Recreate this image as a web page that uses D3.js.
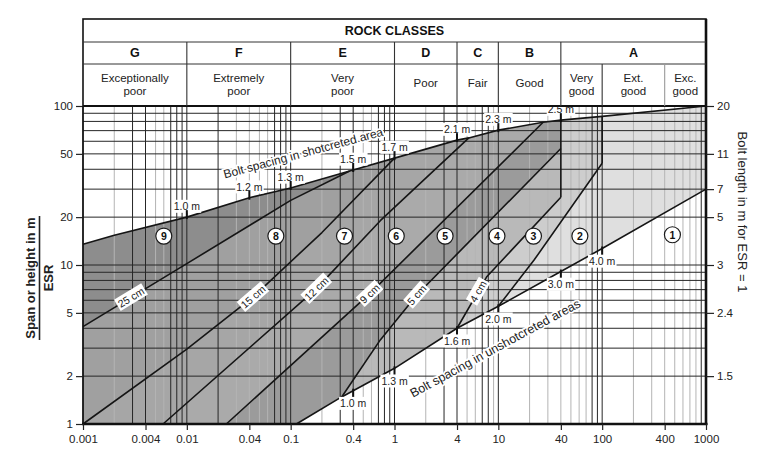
<!DOCTYPE html>
<html>
<head>
<meta charset="utf-8">
<script src="https://cdn.jsdelivr.net/npm/d3@7"></script>
<style>
  body { margin: 0; background: #fff; }
  svg { display: block; font-family: "Liberation Sans", Arial, sans-serif; }
</style>
</head>
<body>
<svg id="chart" width="768" height="453"></svg>
<script>
// ---- axis values ----
const qTicks = [0.001, 0.004, 0.01, 0.04, 0.1, 0.4, 1, 4, 10, 40, 100, 400, 1000];
const qTickLabels = ["0.001", "0.004", "0.01", "0.04", "0.1", "0.4", "1", "4", "10", "40", "100", "400", "1000"];
const spanTicks = [1, 2, 5, 10, 20, 50, 100];
const boltLengthAt = [2, 5, 10, 20, 30, 50, 100];
const boltLengthLabels = ["1.5", "2.4", "3", "5", "7", "11", "20"];

// ---- rock classes (header) ----
const classLetters = ["G", "F", "E", "D", "C", "B", "A"];
const classBounds = [0.001, 0.01, 0.1, 1, 4, 10, 40, 1000];
const qualityNames = [["Exceptionally", "poor"], ["Extremely", "poor"], ["Very", "poor"], ["Poor"], ["Fair"], ["Good"], ["Very", "good"], ["Ext.", "good"], ["Exc.", "good"]];
const qualityBounds = [0.001, 0.01, 0.1, 1, 4, 10, 40, 100, 400, 1000];

// ---- boundary curves, points are [Q, span/ESR] ----
const topBoundary = [[0.001, 13.5], [0.002, 15.4], [0.01, 20], [0.04, 26.5], [0.1, 30.5], [0.37, 39], [1, 47], [4, 61], [5.2, 63], [10, 70.5], [27, 79], [40, 81.5], [100, 86], [1000, 100]];
const bottomBoundary = [[0.1135, 1], [0.31, 1.48], [1, 2.24], [4, 4], [10, 5.5], [40, 9.1], [100, 12.7], [1000, 30]];
const line25cm = [[0.001, 4.1], [0.01, 10.2], [0.1, 25.5], [0.37, 39]];
const line15cm = [[0.001, 1], [0.01, 2.96], [0.0435, 6.3], [0.2, 16], [1, 47]];
const line12cm = [[0.0059, 1], [0.177, 7.1], [0.73, 19], [5.2, 63]];
const line9cm = [[0.024, 1], [0.578, 6.6], [27, 79]];
const line5cm = [[0.31, 1.48], [0.73, 3.38], [1.64, 6.48], [40, 54]];
const line4cm = [[4, 4], [7.7, 8.4], [40, 26.7]];
const line2to3 = [[10, 5.5], [22, 10.7], [100, 43.6]];
const stepAt40 = [[40, 26.7], [40, 81.5]];
const stepAt100 = [[100, 43.6], [100, 86]];

// ---- annotations ----
const topSpacingQ = [0.01, 0.04, 0.1, 0.4, 1, 4, 10, 40];
const topSpacingLabels = ["1.0 m", "1.2 m", "1.3 m", "1.5 m", "1.7 m", "2.1 m", "2.3 m", "2.5 m"];
const bottomSpacingQ = [0.4, 1, 4, 10, 40, 100];
const bottomSpacingLabels = ["1.0 m", "1.3 m", "1.6 m", "2.0 m", "3.0 m", "4.0 m"];
const shotcreteLabels = ["25 cm", "15 cm", "12 cm", "9 cm", "5 cm", "4 cm"];
const shotcreteLabelQ = [0.0029, 0.0435, 0.177, 0.578, 1.64, 6.4];
const regionNumbers = [9, 8, 7, 6, 5, 4, 3, 2, 1];
const regionLabelQ = [0.006, 0.072, 0.33, 1.04, 3.07, 9.7, 21.8, 61, 475];
const regionLabelSpan = [15.2, 15.2, 15.2, 15.2, 15.2, 15.2, 15.2, 15.2, 15.5];

// ---- layout ----
const x = d3.scaleLog().domain([0.001, 1000]).range([83, 706]);
const y = d3.scaleLog().domain([1, 100]).range([424, 106]);
const headerTop = 19, row1 = 42, row2 = 64;

const svg = d3.select("#chart");

function spanOn(pts, q) {
  for (let i = 0; i < pts.length - 1; i++) {
    const [q0, s0] = pts[i], [q1, s1] = pts[i + 1];
    if (q >= q0 && q <= q1) {
      const t = Math.log(q / q0) / Math.log(q1 / q0);
      return Math.exp(Math.log(s0) + t * Math.log(s1 / s0));
    }
  }
  return pts[pts.length - 1][1];
}
const between = (pts, a, b) => pts.filter(p => p[0] >= a && p[0] <= b);
const rev = pts => pts.slice().reverse();
const path = d3.line().x(d => x(d[0])).y(d => y(d[1]));

// ---- shaded support categories ----
const regions = [
  { fill: "#8d8d8d", pts: [...between(topBoundary, 0.001, 0.37), ...rev(line25cm)] },
  { fill: "#a0a0a0", pts: [...line25cm, ...between(topBoundary, 0.37, 1), ...rev(line15cm)] },
  { fill: "#a6a6a6", pts: [...line15cm, ...between(topBoundary, 1, 5.2), ...rev(line12cm)] },
  { fill: "#aaaaaa", pts: [...line12cm, ...between(topBoundary, 5.2, 27), ...rev(line9cm)] },
  { fill: "#9b9b9b", pts: [...line9cm, ...between(topBoundary, 27, 40), ...rev(line5cm), ...rev(between(bottomBoundary, 0.1135, 0.31))] },
  { fill: "#b9b9b9", pts: [...line5cm, ...rev(line4cm), ...rev(between(bottomBoundary, 0.31, 4))] },
  { fill: "#cdcdcd", pts: [...line4cm, ...between(topBoundary, 40, 100), ...rev(line2to3), ...rev(between(bottomBoundary, 4, 10))] },
  { fill: "#dfdfdf", pts: [...line2to3, ...between(topBoundary, 100, 1000), ...rev(between(bottomBoundary, 10, 1000))] }
];
svg.append("g").selectAll("path").data(regions).join("path")
  .attr("d", d => path(d.pts) + "Z")
  .attr("fill", d => d.fill);

// ---- grid ----
const darkMultiples = { "-3": [3, 4, 7, 8, 9], "-2": [2, 7, 8, 9], "-1": [3, 4, 7, 8, 9], "0": [3, 4, 7, 8], "1": [8, 9], "2": [9] };
const vLines = [];
for (let e = -3; e <= 2; e++) {
  for (let k = 1; k <= 9; k++) {
    vLines.push({ q: k * Math.pow(10, e), dark: k === 1 || darkMultiples[e].includes(k) });
  }
}
const hLines = [];
for (let e = 0; e <= 1; e++) for (let k = 2; k <= 9; k++) hLines.push(k * Math.pow(10, e));
hLines.push(10);

const grid = svg.append("g");
grid.selectAll(".vg").data(vLines.filter(d => !d.dark)).join("line")
  .attr("x1", d => x(d.q)).attr("x2", d => x(d.q)).attr("y1", 106).attr("y2", 424)
  .attr("stroke", "#b4b4b4").attr("stroke-width", 1);
grid.selectAll(".hg").data(hLines).join("line")
  .attr("x1", 83).attr("x2", 706).attr("y1", d => y(d)).attr("y2", d => y(d))
  .attr("stroke", "#262626").attr("stroke-width", 1);
grid.selectAll(".vd").data(vLines.filter(d => d.dark)).join("line")
  .attr("x1", d => x(d.q)).attr("x2", d => x(d.q)).attr("y1", 106).attr("y2", 424)
  .attr("stroke", "#262626").attr("stroke-width", 1);

// ---- boundary lines ----
const curves = [topBoundary, bottomBoundary, line25cm, line15cm, line12cm, line9cm, line5cm, line4cm, line2to3, stepAt40, stepAt100];
svg.append("g").selectAll("path").data(curves).join("path")
  .attr("d", d => path(d))
  .attr("fill", "none").attr("stroke", "#151515").attr("stroke-width", 1.6)
  .attr("stroke-linejoin", "round");

// ---- boxed label helper ----
function boxedLabel(g, txt, cx, cy, angle, size, pad) {
  const grp = g.append("g").attr("transform", `translate(${cx},${cy}) rotate(${angle})`);
  const t = grp.append("text").text(txt)
    .attr("text-anchor", "middle").attr("dy", "0.35em")
    .attr("font-size", size).attr("fill", "#222");
  const b = t.node().getBBox();
  grp.insert("rect", "text")
    .attr("x", b.x - pad).attr("y", b.y - 0.5).attr("width", b.width + 2 * pad).attr("height", b.height + 1)
    .attr("fill", "#fff");
  return grp;
}
function angleOn(pts, q) {
  const a = q / 1.15, b = q * 1.15;
  const dx = x(b) - x(a), dy = y(spanOn(pts, b)) - y(spanOn(pts, a));
  return Math.atan2(dy, dx) * 180 / Math.PI;
}

const ann = svg.append("g");

// bolt spacing ticks along top boundary
topSpacingQ.forEach((q, i) => {
  const yl = y(spanOn(topBoundary, q));
  boxedLabel(ann, topSpacingLabels[i], x(q), yl - 10.5, 0, 10.5, 1);
  ann.append("line").attr("x1", x(q)).attr("x2", x(q)).attr("y1", yl - 7).attr("y2", yl + 2)
    .attr("stroke", "#111").attr("stroke-width", 2);
});
// bolt spacing ticks along bottom boundary
bottomSpacingQ.forEach((q, i) => {
  const yl = y(spanOn(bottomBoundary, q));
  ann.append("line").attr("x1", x(q)).attr("x2", x(q)).attr("y1", yl - 2).attr("y2", yl + 7)
    .attr("stroke", "#111").attr("stroke-width", 2);
  boxedLabel(ann, bottomSpacingLabels[i], x(q), yl + 13, 0, 10.5, 1);
});

// shotcrete thickness labels on the lines
const shotLines = [line25cm, line15cm, line12cm, line9cm, line5cm, line4cm];
shotcreteLabels.forEach((txt, i) => {
  const q = shotcreteLabelQ[i], pts = shotLines[i];
  boxedLabel(ann, txt, x(q), y(spanOn(pts, q)), angleOn(pts, q), 10.5, 1.5);
});

// rotated boundary captions
function halo(g, txt, cx, cy, angle, size) {
  g.append("text").text(txt)
    .attr("transform", `translate(${cx},${cy}) rotate(${angle})`)
    .attr("text-anchor", "middle").attr("dy", "0.35em")
    .attr("font-size", size).attr("fill", "#222")
    .attr("stroke", "#fff").attr("stroke-width", 3.5).attr("paint-order", "stroke");
}
halo(ann, "Bolt spacing in shotcreted area", x(0.132), y(50.6), angleOn(topBoundary, 0.1) - 0.5, 12);
halo(ann, "Bolt spacing in unshotcreted areas", x(9.3), y(3.0), angleOn(bottomBoundary, 10), 12.5);

// circled category numbers
const circles = ann.selectAll(".cat").data(regionNumbers).join("g")
  .attr("transform", (d, i) => `translate(${x(regionLabelQ[i])},${y(regionLabelSpan[i])})`);
circles.append("circle").attr("r", 8).attr("fill", "#fff").attr("stroke", "#1a1a1a").attr("stroke-width", 1.2);
circles.append("text").text(d => d).attr("text-anchor", "middle").attr("dy", "0.36em")
  .attr("font-size", 10.5).attr("font-weight", "bold").attr("fill", "#111");

// ---- plot frame ----
const frame = svg.append("g").attr("fill", "none").attr("stroke", "#111");
frame.append("line").attr("x1", 83).attr("x2", 83).attr("y1", 106).attr("y2", 425).attr("stroke-width", 1.6);
frame.append("line").attr("x1", 83).attr("x2", 707).attr("y1", 106).attr("y2", 106).attr("stroke-width", 2);
frame.append("line").attr("x1", 82).attr("x2", 707.5).attr("y1", 424).attr("y2", 424).attr("stroke-width", 2.6);
frame.append("line").attr("x1", 706).attr("x2", 706).attr("y1", headerTop).attr("y2", 425).attr("stroke-width", 2.6);

// ---- axes ----
const leftAxis = svg.append("g").attr("transform", "translate(83,0)")
  .call(d3.axisLeft(y).tickValues(spanTicks).tickFormat(d3.format("d")).tickSize(7).tickPadding(3));
const rightAxis = svg.append("g").attr("transform", "translate(706,0)")
  .call(d3.axisRight(y).tickValues(boltLengthAt).tickFormat((d, i) => boltLengthLabels[i]).tickSize(8).tickPadding(3));
const bottomAxis = svg.append("g").attr("transform", "translate(0,424)")
  .call(d3.axisBottom(x).tickValues(qTicks).tickFormat((d, i) => qTickLabels[i]).tickSize(6).tickPadding(5));
[leftAxis, rightAxis, bottomAxis].forEach(g => {
  g.select(".domain").remove();
  g.selectAll(".tick line").attr("stroke", "#222").attr("stroke-width", 1.2);
  g.selectAll(".tick text").attr("font-size", 11.5).attr("fill", "#222")
    .attr("font-family", "\"Liberation Sans\", Arial, sans-serif");
});

// axis titles
const lt = svg.append("g").attr("transform", "translate(30,278) rotate(-90)");
lt.append("text").text("Span or height in m").attr("text-anchor", "middle").attr("dy", "0.35em")
  .attr("font-size", 13).attr("font-weight", "bold").attr("fill", "#222");
lt.append("line").attr("x1", -62).attr("x2", 62).attr("y1", 9.5).attr("y2", 9.5)
  .attr("stroke", "#222").attr("stroke-width", 1.6);
lt.append("text").text("ESR").attr("text-anchor", "middle").attr("y", 18.5).attr("dy", "0.35em")
  .attr("font-size", 13).attr("font-weight", "bold").attr("fill", "#222");

svg.append("text").text("Bolt length in m for ESR = 1")
  .attr("transform", "translate(743,212) rotate(90)")
  .attr("text-anchor", "middle").attr("dy", "0.35em")
  .attr("font-size", 13).attr("fill", "#222");

// ---- header table ----
const head = svg.append("g");
head.append("rect").attr("x", 83).attr("y", headerTop).attr("width", 623).attr("height", 106 - headerTop)
  .attr("fill", "none").attr("stroke", "#111").attr("stroke-width", 1.6);
[row1, row2].forEach(yy => head.append("line").attr("x1", 83).attr("x2", 706).attr("y1", yy).attr("y2", yy)
  .attr("stroke", "#333").attr("stroke-width", 1));
classBounds.slice(1, -1).forEach(q => head.append("line")
  .attr("x1", x(q)).attr("x2", x(q)).attr("y1", row1).attr("y2", 106)
  .attr("stroke", "#333").attr("stroke-width", 1.1));
[100, 400].forEach((q, i) => head.append("line")
  .attr("x1", x(q)).attr("x2", x(q)).attr("y1", row2).attr("y2", 106)
  .attr("stroke", i === 0 ? "#333" : "#999").attr("stroke-width", 1.1));

head.append("text").text("ROCK CLASSES").attr("x", x(1)).attr("y", 30.5).attr("dy", "0.35em")
  .attr("text-anchor", "middle").attr("font-size", 12.5).attr("font-weight", "bold").attr("fill", "#111");
classLetters.forEach((c, i) => {
  const cx = (x(classBounds[i]) + x(classBounds[i + 1])) / 2;
  head.append("text").text(c).attr("x", cx).attr("y", 53).attr("dy", "0.35em")
    .attr("text-anchor", "middle").attr("font-size", 12.5).attr("font-weight", "bold").attr("fill", "#111");
});
qualityNames.forEach((lines, i) => {
  const cx = (x(qualityBounds[i]) + x(qualityBounds[i + 1])) / 2;
  const ys = lines.length === 1 ? [83] : [77.5, 91];
  lines.forEach((s, j) => head.append("text").text(s).attr("x", cx).attr("y", ys[j]).attr("dy", "0.35em")
    .attr("text-anchor", "middle").attr("font-size", 11.5).attr("fill", "#222"));
});
</script>
</body>
</html>
